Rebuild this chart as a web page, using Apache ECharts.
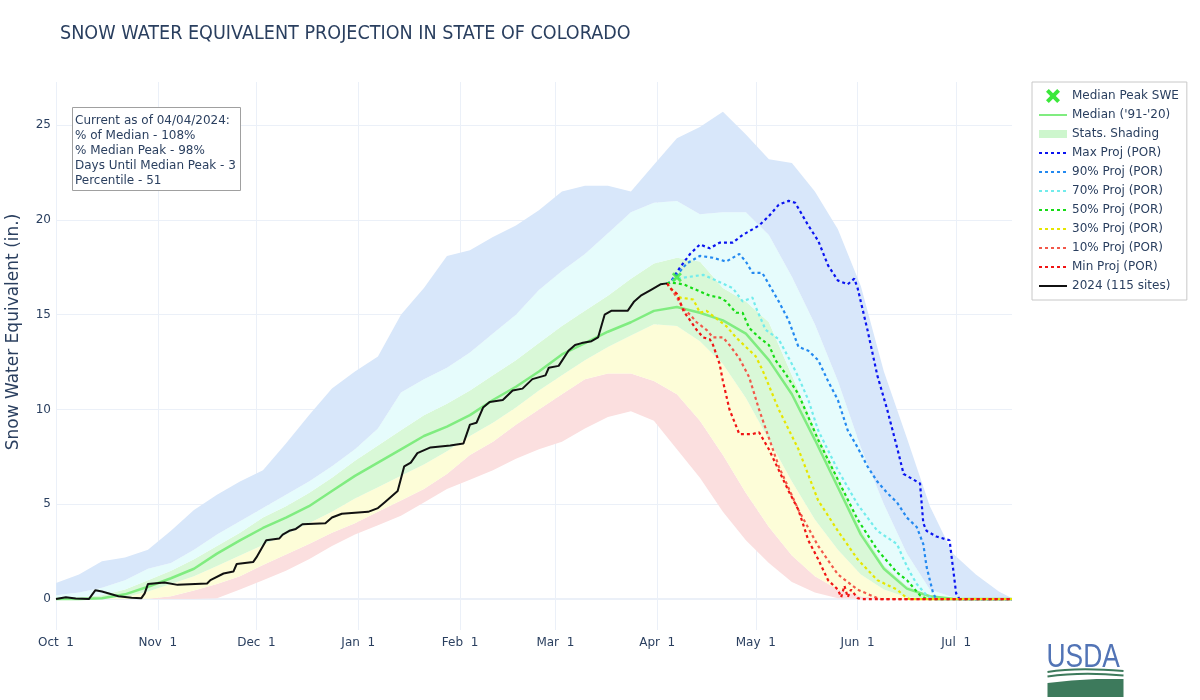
<!DOCTYPE html>
<html>
<head>
<meta charset="utf-8">
<title>Snow Water Equivalent Projection - Colorado</title>
<script src="https://cdn.jsdelivr.net/npm/echarts@6/dist/echarts.min.js"></script>
<style>
  html, body { margin: 0; padding: 0; background: #fff; }
  #chart { width: 1200px; height: 700px; }
</style>
</head>
<body>
<div id="chart"></div>
<script>
// ---- data (inches SWE) ----
// weekly sample dates for the statistics bands / median
const statDates = [
  '2023-10-01','2023-10-08','2023-10-15','2023-10-22','2023-10-29','2023-11-05','2023-11-12','2023-11-19','2023-11-26',
  '2023-12-03','2023-12-10','2023-12-17','2023-12-24','2023-12-31','2024-01-07','2024-01-14','2024-01-21','2024-01-28',
  '2024-02-04','2024-02-11','2024-02-18','2024-02-25','2024-03-03','2024-03-10','2024-03-17','2024-03-24','2024-03-31',
  '2024-04-07','2024-04-14','2024-04-21','2024-04-28','2024-05-05','2024-05-12','2024-05-19','2024-05-26','2024-06-02',
  '2024-06-09','2024-06-16','2024-06-23','2024-06-30','2024-07-07','2024-07-14','2024-07-18'
];
const statMax = [0.85,1.3,2.0,2.2,2.6,3.6,4.7,5.5,6.2, 6.8,8.2,9.7,11.1,12.0,12.8,15.0,16.4,18.1,
  18.4,19.1,19.7,20.5,21.5,21.8,21.8,21.5,22.9, 24.3,24.9,25.7,24.5,23.2,23.0,21.5,19.5,16.5,
  12.0,8.5,4.9,2.4,1.3,0.4,0.05];
const stat90 = [0.2,0.35,0.6,1.0,1.6,1.9,2.6,3.4,4.1, 4.8,5.5,6.2,7.0,7.9,9.0,10.9,11.6,12.2,
  13.0,14.0,15.0,16.3,17.3,18.2,19.3,20.4,20.9, 21.0,20.3,20.4,20.4,19.2,17.0,14.5,11.5,8.0,
  5.0,2.4,0.5,0.1,0.03,0,0];
const stat70 = [0.05,0.1,0.2,0.5,1.0,1.5,2.1,2.8,3.5, 4.3,4.9,5.6,6.4,7.3,8.1,8.9,9.7,10.3,
  11.0,11.8,12.6,13.5,14.4,15.2,16.0,16.9,17.7, 18.0,17.8,16.4,15.7,14.6,11.8,9.0,6.4,3.7,
  1.8,0.7,0.2,0.05,0,0,0];
const statMedian = [0,0,0.05,0.25,0.65,1.1,1.6,2.4,3.1, 3.75,4.3,4.9,5.7,6.5,7.2,7.9,8.6,9.1,
  9.7,10.5,11.2,12.0,12.9,13.5,14.1,14.6,15.2, 15.4,15.1,14.7,14.0,12.6,10.8,8.4,5.9,3.4,
  1.6,0.55,0.15,0.02,0,0,0];
const stat30 = [0,0,0.02,0.1,0.4,0.8,1.2,1.75,2.3, 2.85,3.4,4.0,4.6,5.3,5.9,6.5,7.1,7.8,
  8.6,9.3,10.1,11.0,11.8,12.6,13.3,13.9,14.5, 14.4,13.6,12.4,10.6,8.4,6.2,4.2,2.6,1.3,
  0.5,0.1,0.02,0,0,0,0];
const stat10 = [0,0,0,0,0.02,0.15,0.45,0.8,1.2, 1.8,2.35,2.9,3.5,4.0,4.6,5.2,5.8,6.6,
  7.6,8.3,9.2,10.0,10.8,11.6,11.9,11.9,11.5, 10.8,9.4,7.6,5.6,3.8,2.3,1.2,0.5,0.15,
  0.02,0,0,0,0,0,0];
const statMin = [0,0,0,0,0,0,0,0.05,0.5, 1.0,1.5,2.1,2.8,3.4,3.9,4.4,5.1,5.8,
  6.3,6.8,7.4,7.9,8.3,9.0,9.6,9.9,9.4, 7.9,6.4,4.6,3.1,1.9,0.9,0.35,0.05,0,
  0,0,0,0,0,0,0];

// water year 2024 observed (115 sites)
const obs2024 = [
  ['2023-10-01',0],['2023-10-04',0.1],['2023-10-07',0.03],['2023-10-11',0],['2023-10-13',0.47],['2023-10-15',0.4],
  ['2023-10-20',0.15],['2023-10-24',0.07],['2023-10-27',0.05],['2023-10-28',0.3],['2023-10-29',0.8],['2023-11-03',0.87],
  ['2023-11-07',0.75],['2023-11-16',0.82],['2023-11-17',1.0],['2023-11-21',1.35],['2023-11-24',1.45],['2023-11-25',1.85],
  ['2023-11-30',1.95],['2023-12-01',2.2],['2023-12-04',3.1],['2023-12-08',3.2],['2023-12-09',3.4],['2023-12-11',3.6],
  ['2023-12-13',3.7],['2023-12-15',3.95],['2023-12-22',4.0],['2023-12-24',4.3],['2023-12-27',4.5],['2024-01-04',4.6],
  ['2024-01-07',4.8],['2024-01-09',5.1],['2024-01-13',5.7],['2024-01-15',7.0],['2024-01-17',7.2],['2024-01-19',7.7],
  ['2024-01-23',8.0],['2024-01-29',8.1],['2024-02-02',8.2],['2024-02-04',9.2],['2024-02-06',9.3],['2024-02-08',10.1],
  ['2024-02-10',10.4],['2024-02-14',10.5],['2024-02-17',11.0],['2024-02-20',11.1],['2024-02-23',11.6],['2024-02-27',11.8],
  ['2024-02-28',12.2],['2024-03-02',12.3],['2024-03-05',13.1],['2024-03-07',13.4],['2024-03-09',13.5],['2024-03-12',13.6],
  ['2024-03-14',13.8],['2024-03-16',15.0],['2024-03-18',15.2],['2024-03-23',15.2],['2024-03-25',15.7],['2024-03-27',16.0],
  ['2024-03-30',16.3],['2024-04-02',16.6],['2024-04-04',16.65]
];

// projections from 04/04/2024 using period-of-record melt
const projMax = [
  ['2024-04-04',16.65],['2024-04-05',16.7],['2024-04-08',17.5],['2024-04-11',18.2],['2024-04-14',18.7],['2024-04-17',18.5],
  ['2024-04-20',18.8],['2024-04-24',18.8],['2024-04-27',19.2],['2024-04-30',19.5],['2024-05-02',19.7],['2024-05-05',20.2],
  ['2024-05-08',20.8],['2024-05-11',21.0],['2024-05-13',20.9],['2024-05-14',20.6],['2024-05-17',19.7],['2024-05-20',18.9],
  ['2024-05-23',17.6],['2024-05-26',16.8],['2024-05-29',16.6],['2024-05-31',16.9],['2024-06-01',16.4],['2024-06-04',14.2],
  ['2024-06-07',11.8],['2024-06-10',10.0],['2024-06-13',8.0],['2024-06-15',6.6],['2024-06-18',6.3],['2024-06-20',6.1],
  ['2024-06-21',4.0],['2024-06-22',3.6],['2024-06-25',3.3],['2024-06-29',3.1],['2024-07-01',0.3],['2024-07-02',0],['2024-07-18',0]
];
const proj90 = [
  ['2024-04-04',16.65],['2024-04-05',16.7],['2024-04-10',17.7],['2024-04-14',18.1],['2024-04-18',18.0],['2024-04-22',17.8],
  ['2024-04-26',18.2],['2024-04-28',17.8],['2024-04-30',17.2],['2024-05-03',17.2],['2024-05-05',16.6],['2024-05-08',15.7],
  ['2024-05-11',14.7],['2024-05-14',13.3],['2024-05-17',13.1],['2024-05-20',12.6],['2024-05-23',11.5],['2024-05-26',10.5],
  ['2024-05-29',8.9],['2024-06-01',8.0],['2024-06-04',7.0],['2024-06-07',6.2],['2024-06-10',5.6],['2024-06-13',5.1],
  ['2024-06-16',4.3],['2024-06-19',3.8],['2024-06-21',2.9],['2024-06-22',1.7],['2024-06-23',1.0],['2024-06-24',0.3],
  ['2024-06-25',0],['2024-07-18',0]
];
const proj70 = [
  ['2024-04-04',16.65],['2024-04-07',16.9],['2024-04-11',17.0],['2024-04-15',17.1],['2024-04-19',16.8],['2024-04-24',16.4],
  ['2024-04-27',15.7],['2024-04-30',15.9],['2024-05-01',15.4],['2024-05-04',14.2],['2024-05-08',13.7],['2024-05-12',12.4],
  ['2024-05-14',11.7],['2024-05-17',10.5],['2024-05-20',8.9],['2024-05-26',6.8],['2024-06-01',5.0],['2024-06-07',3.6],
  ['2024-06-13',2.9],['2024-06-15',2.1],['2024-06-17',1.4],['2024-06-19',0.8],['2024-06-22',0.2],['2024-06-24',0],['2024-07-18',0]
];
const proj50 = [
  ['2024-04-04',16.65],['2024-04-05',16.7],['2024-04-09',16.6],['2024-04-13',16.3],['2024-04-17',16.0],['2024-04-20',15.9],
  ['2024-04-22',15.7],['2024-04-25',15.1],['2024-04-27',15.1],['2024-04-29',14.3],['2024-05-02',13.8],['2024-05-05',13.4],
  ['2024-05-07',12.6],['2024-05-10',11.9],['2024-05-14',10.8],['2024-05-20',8.4],['2024-05-26',6.3],['2024-06-01',4.2],
  ['2024-06-07',2.6],['2024-06-13',1.4],['2024-06-16',1.0],['2024-06-18',0.6],['2024-06-20',0.2],['2024-06-22',0],['2024-07-18',0]
];
const proj30 = [
  ['2024-04-04',16.65],['2024-04-05',16.4],['2024-04-08',15.9],['2024-04-12',15.8],['2024-04-14',15.1],['2024-04-16',15.2],
  ['2024-04-19',14.8],['2024-04-22',14.4],['2024-04-25',13.8],['2024-04-28',13.3],['2024-05-01',12.8],['2024-05-03',12.1],
  ['2024-05-08',10.0],['2024-05-14',7.9],['2024-05-20',5.2],['2024-05-26',3.6],['2024-06-01',2.1],['2024-06-07',1.0],
  ['2024-06-13',0.5],['2024-06-16',0.05],['2024-06-17',0],['2024-07-18',0]
];
const proj10 = [
  ['2024-04-04',16.65],['2024-04-05',16.4],['2024-04-07',15.9],['2024-04-09',15.3],['2024-04-11',15.0],['2024-04-13',14.6],
  ['2024-04-16',14.2],['2024-04-18',13.8],['2024-04-21',13.8],['2024-04-23',13.4],['2024-04-26',12.7],['2024-04-29',11.7],
  ['2024-05-02',10.0],['2024-05-08',7.0],['2024-05-14',4.7],['2024-05-20',2.8],['2024-05-26',1.3],['2024-06-01',0.5],
  ['2024-06-07',0.05],['2024-06-08',0],['2024-07-18',0]
];
const projMin = [
  ['2024-04-04',16.65],['2024-04-05',16.4],['2024-04-07',16.1],['2024-04-09',15.2],['2024-04-11',14.7],['2024-04-13',14.2],
  ['2024-04-15',13.8],['2024-04-17',13.7],['2024-04-18',13.4],['2024-04-20',12.4],['2024-04-21',11.5],['2024-04-23',10.0],
  ['2024-04-26',8.7],['2024-04-30',8.7],['2024-05-02',8.8],['2024-05-05',7.9],['2024-05-08',6.8],['2024-05-11',5.7],
  ['2024-05-14',4.7],['2024-05-17',3.1],['2024-05-20',2.1],['2024-05-23',1.0],['2024-05-26',0.5],['2024-05-27',0.1],
  ['2024-05-28',0.7],['2024-05-29',0.1],['2024-05-30',0.5],['2024-06-01',0.05],['2024-06-02',0],['2024-07-18',0]
];
const medianPeak = ['2024-04-07', 16.97];

const noteLines = [
  'Current as of 04/04/2024:',
  '% of Median - 108%',
  '% Median Peak - 98%',
  'Days Until Median Peak - 3',
  'Percentile - 51'
];

// ---- axis categories: one per day of the water year shown ----
const days = [];
for (let t = Date.UTC(2023, 9, 1); t <= Date.UTC(2024, 6, 18); t += 86400000) {
  days.push(new Date(t).toISOString().slice(0, 10));
}
const monthNames = ['Jan','Feb','Mar','Apr','May','Jun','Jul','Aug','Sep','Oct','Nov','Dec'];
const isMonthStart = (idx, val) => val.slice(8) === '01';

const FONT = '"DejaVu Sans", Verdana, sans-serif';
const INK = '#2a3f5f';

function pairs(dates, vals) {
  return dates.map((d, i) => [d, vals[i]]);
}
function gap(upper, lower) {
  return upper.map((v, i) => Math.max(0, +(v - lower[i]).toFixed(3)));
}
function band(name, vals, color) {
  return {
    name: name,
    type: 'line',
    stack: 'stats',
    data: pairs(statDates, vals),
    symbol: 'none',
    silent: true,
    z: 1,
    lineStyle: { width: 0, opacity: 0 },
    areaStyle: { color: color, opacity: 1 }
  };
}
function proj(name, data, color) {
  return {
    name: name,
    type: 'line',
    data: data,
    symbol: 'none',
    z: 3,
    itemStyle: { color: color },
    lineStyle: { color: color, width: 2.2, type: [3, 3] }
  };
}

const xMark = 'path://M2,0 L5,3 L8,0 L10,2 L7,5 L10,8 L8,10 L5,7 L2,10 L0,8 L3,5 L0,2 Z';

const chart = echarts.init(document.getElementById('chart'), null, { renderer: 'canvas' });

chart.setOption({
  animation: false,
  backgroundColor: '#ffffff',
  textStyle: { fontFamily: FONT },
  legend: {
    orient: 'vertical',
    left: 1032,
    top: 82,
    padding: [7, 8, 7, 6],
    itemWidth: 28,
    itemHeight: 14,
    itemGap: 5,
    backgroundColor: '#ffffff',
    borderColor: '#c8c8c8',
    borderWidth: 1,
    selectedMode: false,
    // hide the marker dot ECharts puts on line icons; keep only the line
    itemStyle: { opacity: 0 },
    textStyle: { color: INK, fontSize: 12, fontFamily: FONT, lineHeight: 14 },
    data: [
      { name: 'Median Peak SWE', icon: xMark, itemStyle: { opacity: 1 } },
      "Median ('91-'20)",
      { name: 'Stats. Shading', icon: 'path://M0,0 H28 V8 H0 Z', itemStyle: { color: '#cdf6cd', opacity: 1 } },
      'Max Proj (POR)',
      '90% Proj (POR)',
      '70% Proj (POR)',
      '50% Proj (POR)',
      '30% Proj (POR)',
      '10% Proj (POR)',
      'Min Proj (POR)',
      '2024 (115 sites)'
    ]
  },
  grid: { left: 56, right: 188, top: 82, bottom: 70 },
  xAxis: {
    type: 'category',
    data: days,
    boundaryGap: false,
    axisLine: { show: false },
    axisTick: { show: false },
    axisLabel: {
      interval: isMonthStart,
      color: INK,
      fontSize: 12,
      fontFamily: FONT,
      margin: 7,
      formatter: function (v) {
        return monthNames[+v.slice(5, 7) - 1] + '  ' + (+v.slice(8));
      }
    },
    splitLine: { show: true, interval: isMonthStart, lineStyle: { color: '#ebf0f8', width: 1 } }
  },
  yAxis: {
    type: 'value',
    min: -1.63,
    max: 27.27,
    splitNumber: 5,
    axisLine: { show: false },
    axisTick: { show: false },
    axisLabel: { color: INK, fontSize: 12, fontFamily: FONT, margin: 5, showMinLabel: false, showMaxLabel: false },
    splitLine: { show: true, showMinLine: false, showMaxLine: false, lineStyle: { color: '#ebf0f8', width: 1 } }
  },
  graphic: [
    // chart title
    {
      type: 'text',
      x: 60,
      y: 34,
      scaleX: 0.88,
      z: 100,
      style: {
        text: 'SNOW WATER EQUIVALENT PROJECTION IN STATE OF COLORADO',
        font: '20px ' + FONT,
        fill: INK,
        verticalAlign: 'middle'
      }
    },
    // y axis title
    {
      type: 'text',
      x: 14,
      y: 332,
      rotation: Math.PI / 2,
      z: 100,
      style: {
        text: 'Snow Water Equivalent (in.)',
        font: '17px ' + FONT,
        fill: INK,
        align: 'center',
        verticalAlign: 'middle'
      }
    },
    {
      type: 'group',
      left: 72,
      top: 107,
      z: 100,
      children: [
        { type: 'rect', z: 100, shape: { x: 0.5, y: 0.5, width: 168, height: 83 },
          style: { fill: '#ffffff', stroke: '#a0a0a0', lineWidth: 1 } },
        { type: 'text', z: 101, x: 3, y: 6,
          style: { text: noteLines.join('\n'), font: '12px ' + FONT, fill: INK, lineHeight: 15 } }
      ]
    },
    {
      type: 'group',
      left: 1045,
      top: 641,
      z: 100,
      children: [
        { type: 'text', z: 100, x: 0, y: 0, scaleX: 0.8,
          style: { text: 'USDA', font: '33px "Liberation Sans", sans-serif', fill: '#5274b6' } },
        { type: 'bezierCurve', z: 100, shape: { x1: 1, y1: 31, cpx1: 30, cpy1: 26, x2: 77, y2: 30 },
          style: { stroke: '#3d7a5c', lineWidth: 2, fill: null } },
        { type: 'bezierCurve', z: 100, shape: { x1: 1, y1: 35.5, cpx1: 35, cpy1: 30.5, x2: 77, y2: 34.5 },
          style: { stroke: '#3d7a5c', lineWidth: 2, fill: null } },
        { type: 'polygon', z: 100, shape: { points: [[1, 42], [25, 39.5], [50, 38], [77, 38], [77, 56], [1, 56]] },
          style: { fill: '#3d7a5c' } }
      ]
    }
  ],
  series: [
    {
      name: 'statsBase',
      type: 'line',
      stack: 'stats',
      data: pairs(statDates, statMin),
      symbol: 'none',
      silent: true,
      z: 1,
      lineStyle: { width: 0, opacity: 0 },
      markLine: {
        silent: true,
        symbol: 'none',
        z: 1,
        label: { show: false },
        lineStyle: { color: '#ebf0f8', width: 2, type: 'solid' },
        data: [{ yAxis: 0 }]
      }
    },
    band('statsMin10', gap(stat10, statMin), '#fbdfdf'),
    band('stats1030', gap(stat30, stat10), '#fdfdd8'),
    band('Stats. Shading', gap(stat70, stat30), '#d9f8d7'),
    band('stats7090', gap(stat90, stat70), '#e6fcfc'),
    band('stats90Max', gap(statMax, stat90), '#d8e7fa'),
    {
      name: "Median ('91-'20)",
      type: 'line',
      data: pairs(statDates, statMedian),
      symbol: 'none',
      z: 2,
      itemStyle: { color: '#80ec80' },
      lineStyle: { color: '#80ec80', width: 2.5 }
    },
    proj('Max Proj (POR)', projMax, '#0a14f0'),
    proj('90% Proj (POR)', proj90, '#2389f0'),
    proj('70% Proj (POR)', proj70, '#72ecec'),
    proj('50% Proj (POR)', proj50, '#16dc16'),
    proj('30% Proj (POR)', proj30, '#e6e600'),
    proj('10% Proj (POR)', proj10, '#f2584a'),
    proj('Min Proj (POR)', projMin, '#f01414'),
    {
      name: '2024 (115 sites)',
      type: 'line',
      data: obs2024,
      symbol: 'none',
      z: 4,
      itemStyle: { color: '#111111' },
      lineStyle: { color: '#111111', width: 2 }
    },
    {
      name: 'Median Peak SWE',
      type: 'scatter',
      data: [medianPeak],
      symbol: xMark,
      symbolSize: 10,
      z: 6,
      itemStyle: { color: '#3be83b' }
    }
  ]
});
</script>
</body>
</html>
